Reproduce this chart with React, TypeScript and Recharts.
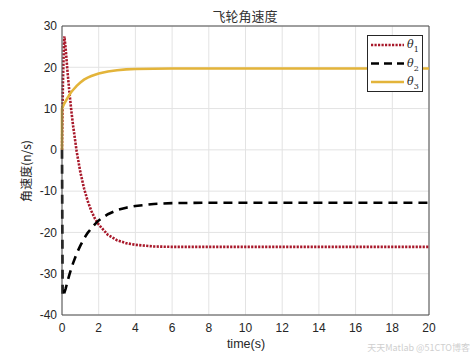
import {
  CartesianGrid,
  Line,
  LineChart,
  ReferenceLine,
  XAxis,
  YAxis,
} from "recharts";

// θ1 — red dotted
const theta1Time = [0, 0.05, 0.1, 0.13, 0.2, 0.3, 0.4, 0.5, 0.6, 0.8, 1, 1.2, 1.4, 1.6, 1.8, 2, 2.5, 3, 3.5, 4, 5, 6, 8, 10, 12, 14, 16, 18, 20];
const theta1Value = [0, 16, 25, 27.5, 24.5, 19.0, 14.1, 9.8, 6.0, -0.4, -5.4, -9.3, -12.4, -14.8, -16.7, -18.1, -20.6, -21.9, -22.6, -23.0, -23.4, -23.5, -23.5, -23.5, -23.5, -23.5, -23.5, -23.5, -23.5];

// θ2 — black dashed
const theta2Time = [0, 0.03, 0.1, 0.2, 0.3, 0.4, 0.5, 0.6, 0.8, 1, 1.2, 1.4, 1.6, 1.8, 2, 2.5, 3, 3.5, 4, 5, 6, 8, 10, 12, 14, 16, 18, 20];
const theta2Value = [0, -35.5, -35, -33.6, -31.9, -30.3, -28.8, -27.5, -25.1, -23.2, -21.5, -20.1, -19.0, -18.0, -17.1, -15.6, -14.6, -14.0, -13.6, -13.1, -12.9, -12.8, -12.8, -12.8, -12.8, -12.8, -12.8, -12.8];

// θ3 — yellow solid
const theta3Time = [0, 0, 0.1, 0.2, 0.3, 0.4, 0.5, 0.6, 0.8, 1, 1.2, 1.4, 1.6, 1.8, 2, 2.5, 3, 3.5, 4, 5, 6, 8, 10, 12, 14, 16, 18, 20];
const theta3Value = [0, 10, 11.0, 11.8, 12.6, 13.3, 14.0, 14.5, 15.5, 16.3, 17.0, 17.5, 17.9, 18.2, 18.5, 19.0, 19.3, 19.5, 19.6, 19.65, 19.7, 19.7, 19.7, 19.7, 19.7, 19.7, 19.7, 19.7];

const xTicks = [0, 2, 4, 6, 8, 10, 12, 14, 16, 18, 20];
const yTicks = [-40, -30, -20, -10, 0, 10, 20, 30];

const toRows = (ts: number[], vs: number[]) => ts.map((t, i) => ({ t, v: vs[i] }));

const RED = "#a8182a";
const YELLOW = "#e3b43a";
const AXIS = "#4d4d4d";
const tickStyle = { fontSize: 12, fill: "#262626", fontFamily: "Liberation Sans, Arial, sans-serif" };

function LegendBox() {
  const rows = [
    { label: "1", stroke: RED, dash: "2.2 1.3", width: 2.6 },
    { label: "2", stroke: "#000", dash: "8 5", width: 2.6 },
    { label: "3", stroke: YELLOW, dash: undefined, width: 2.6 },
  ];
  return (
    <svg
      width={56}
      height={57}
      style={{ position: "absolute", left: 367, top: 35 }}
    >
      <rect x={0.5} y={0.5} width={55} height={56} fill="#fff" stroke="#262626" />
      {rows.map((r, i) => {
        const y = 10 + i * 18.5;
        return (
          <g key={r.label}>
            <line x1={4} x2={37} y1={y} y2={y} stroke={r.stroke} strokeWidth={r.width} strokeDasharray={r.dash} />
            <text x={40} y={y + 3} fontSize={11} fontStyle="italic" fill="#262626" fontFamily="DejaVu Serif, serif">
              θ
              <tspan fontSize={8} dy={4} fontStyle="normal">{r.label}</tspan>
            </text>
          </g>
        );
      })}
    </svg>
  );
}

export default function App() {
  return (
    <div style={{ position: "absolute", left: 0, top: 0, width: 474, height: 355, background: "#fff" }}>
      <LineChart width={474} height={355} margin={{ top: 26, right: 45, bottom: 0, left: 0 }}>
        <CartesianGrid stroke="#e3e3e3" strokeWidth={1} />
        <XAxis
          type="number"
          dataKey="t"
          domain={[0, 20]}
          ticks={xTicks}
          height={40}
          tickLine={false}
          tickSize={6}
          stroke={AXIS}
          tick={tickStyle}
          allowDuplicatedCategory={false}
        />
        <YAxis
          type="number"
          dataKey="v"
          domain={[-40, 30]}
          ticks={yTicks}
          width={62}
          tickLine={false}
          tickSize={3}
          stroke={AXIS}
          tick={tickStyle}
        />
        <ReferenceLine y={30} stroke={AXIS} />
        <ReferenceLine x={20} stroke={AXIS} />
        <Line
          data={toRows(theta1Time, theta1Value)}
          dataKey="v"
          type="linear"
          stroke={RED}
          strokeWidth={2.6}
          strokeDasharray="2.2 1.3"
          dot={false}
          isAnimationActive={false}
        />
        <Line
          data={toRows(theta2Time, theta2Value)}
          dataKey="v"
          type="linear"
          stroke="#000"
          strokeWidth={2.6}
          strokeDasharray="9 6"
          dot={false}
          isAnimationActive={false}
        />
        <Line
          data={toRows(theta3Time, theta3Value)}
          dataKey="v"
          type="linear"
          stroke={YELLOW}
          strokeWidth={2.6}
          dot={false}
          isAnimationActive={false}
        />
        <text x={245} y={21} textAnchor="middle" fontSize={13} fill="#333" fontFamily="Noto Sans CJK SC, sans-serif">
          飞轮角速度
        </text>
        <text
          x={28}
          y={171}
          textAnchor="middle"
          dominantBaseline="middle"
          transform="rotate(-90 28 171)"
          fontSize={12}
          fill="#262626"
          fontFamily="Noto Sans CJK SC, sans-serif"
        >
          角速度(n/s)
        </text>
        <text x={246} y={348} textAnchor="middle" fontSize={12.5} fill="#262626" fontFamily="Liberation Sans, Arial, sans-serif">
          time(s)
        </text>
        <text x={470} y={351} textAnchor="end" fontSize={9} fill="#bbb" opacity={0.7} fontFamily="Noto Sans CJK SC, sans-serif">
          天天Matlab @51CTO博客
        </text>
      </LineChart>
      <LegendBox />
    </div>
  );
}
